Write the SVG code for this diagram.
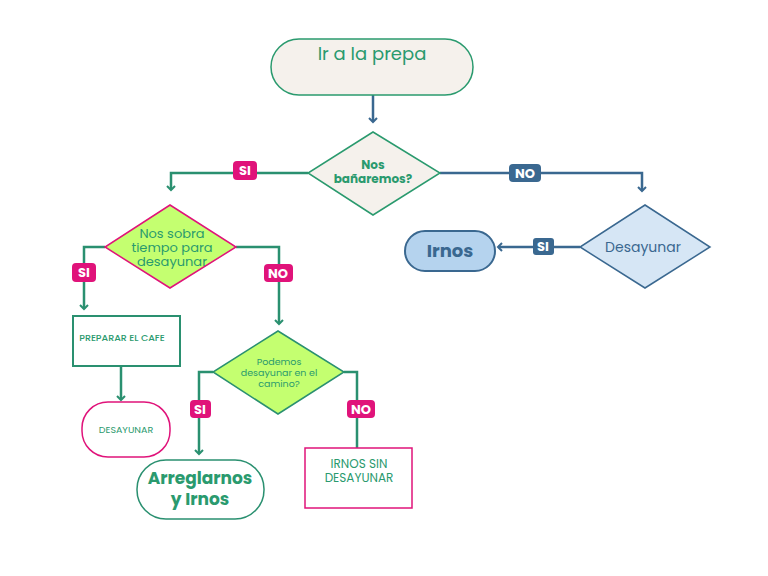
<svg xmlns="http://www.w3.org/2000/svg" width="768" height="576" viewBox="0 0 768 576">
<style>
text{font-family:Poppins,"Noto Sans","Open Sans",sans-serif;text-anchor:middle}
.g{fill:#2a9a6e}.b{fill:#3a6890}
.lg{stroke:#2a9070;stroke-width:2.5;fill:none}
.lb{stroke:#3a6890;stroke-width:2.5;fill:none}
.tagp{fill:#e0137a}.tagb{fill:#3a6890}
.tt{fill:#fff;font-weight:bold;font-size:13px}
</style>
<defs>
<marker id="ag" viewBox="0 0 10 10" refX="5" refY="5" markerWidth="4" markerHeight="4" orient="auto"><path d="M1,1 L5,5 L1,9" stroke="#2a9070" stroke-width="2" fill="none"/></marker>
<marker id="ab" viewBox="0 0 10 10" refX="5" refY="5" markerWidth="4" markerHeight="4" orient="auto"><path d="M1,1 L5,5 L1,9" stroke="#3a6890" stroke-width="2" fill="none"/></marker>
</defs>
<rect width="768" height="576" fill="#fff"/>
<g id="connectors">
<path class="lb" d="M373,95 V122" marker-end="url(#ab)"/>
<path class="lg" d="M308,173 H171 V190" marker-end="url(#ag)"/>
<path class="lb" d="M440,173 H642 V191" marker-end="url(#ab)"/>
<path class="lb" d="M580,247 H498" marker-end="url(#ab)"/>
<path class="lg" d="M105,247 H84 V309" marker-end="url(#ag)"/>
<path class="lg" d="M236,247 H279 V324" marker-end="url(#ag)"/>
<path class="lg" d="M121,366 V400" marker-end="url(#ag)"/>
<path class="lg" d="M213,372 H199 V454" marker-end="url(#ag)"/>
<path class="lg" d="M344,372 H357 V454" marker-end="url(#ag)"/>
<rect class="tagp" x="233" y="161" width="24" height="19" rx="4"/><text class="tt" x="245" y="175">SI</text>
<rect class="tagb" x="509" y="164" width="32" height="18" rx="4"/><text class="tt" x="525" y="178">NO</text>
<rect class="tagb" x="533" y="238" width="21" height="17" rx="3"/><text class="tt" x="543" y="251">SI</text>
<rect class="tagp" x="72" y="263" width="24" height="19" rx="4"/><text class="tt" x="84" y="277">SI</text>
<rect class="tagp" x="264" y="264" width="29" height="18" rx="4"/><text class="tt" x="278" y="278">NO</text>
<rect class="tagp" x="190" y="400" width="21" height="18" rx="4"/><text class="tt" x="200" y="414">SI</text>
<rect class="tagp" x="347" y="400" width="28" height="18" rx="4"/><text class="tt" x="361" y="414">NO</text>
</g>
<g id="inicio"><rect x="271" y="39" width="202" height="56" rx="28" fill="#f5f1ec" stroke="#2a9a6e" stroke-width="1.5"/><text class="g" x="372" y="60" font-size="18">Ir a la prepa</text></g>
<g id="banaremos"><polygon points="373,132 440,173 373,215 308,173" fill="#f5f1ec" stroke="#2a9a6e" stroke-width="1.5"/><text class="g" x="373" y="169" font-size="12" font-weight="bold">Nos</text><text class="g" x="373" y="183" font-size="12" font-weight="bold">bañaremos?</text></g>
<g id="desayunar-d"><polygon points="645,205 710,247 645,288 580,247" fill="#d6e6f5" stroke="#3a6890" stroke-width="1.5"/><text class="b" x="643" y="252" font-size="14">Desayunar</text></g>
<g id="irnos"><rect x="405" y="231" width="90" height="40" rx="20" fill="#b5d3ee" stroke="#3a6890" stroke-width="2"/><text class="b" x="450" y="257" font-size="18" font-weight="bold">Irnos</text></g>
<g id="sobra"><polygon points="170,205 236,247 170,288 105,247" fill="#c4ff70" stroke="#e0137a" stroke-width="1.5"/><text class="g" x="172" y="238" font-size="13">Nos sobra</text><text class="g" x="172" y="252" font-size="13">tiempo para</text><text class="g" x="172" y="266" font-size="13">desayunar</text></g>
<g id="preparar"><rect x="73" y="316" width="107" height="50" fill="#fff" stroke="#2a9070" stroke-width="2"/><text class="g" x="122" y="341" font-size="9.5" font-weight="500">PREPARAR EL CAFE</text></g>
<g id="desayunar-t"><rect x="82" y="402" width="88" height="55" rx="26" fill="#fff" stroke="#e0137a" stroke-width="1.5"/><text class="g" x="126" y="433" font-size="9.5">DESAYUNAR</text></g>
<g id="camino"><polygon points="278,331 344,372 278,414 213,372" fill="#c4ff70" stroke="#2a9070" stroke-width="1.5"/><text class="g" x="279" y="365" font-size="9.5">Podemos</text><text class="g" x="279" y="376" font-size="9.5">desayunar en el</text><text class="g" x="279" y="387" font-size="9.5">camino?</text></g>
<g id="arreglarnos"><rect x="137" y="460" width="127" height="59" rx="29" fill="#fff" stroke="#2a9070" stroke-width="1.5"/><text class="g" x="200" y="484" font-size="17" font-weight="bold">Arreglarnos</text><text class="g" x="200" y="505" font-size="17" font-weight="bold">y Irnos</text></g>
<g id="sin"><rect x="305" y="448" width="107" height="60" fill="#fff" stroke="#e0137a" stroke-width="1.5"/><text class="g" x="359" y="468" font-size="12">IRNOS SIN</text><text class="g" x="359" y="482" font-size="12">DESAYUNAR</text></g>
</svg>
